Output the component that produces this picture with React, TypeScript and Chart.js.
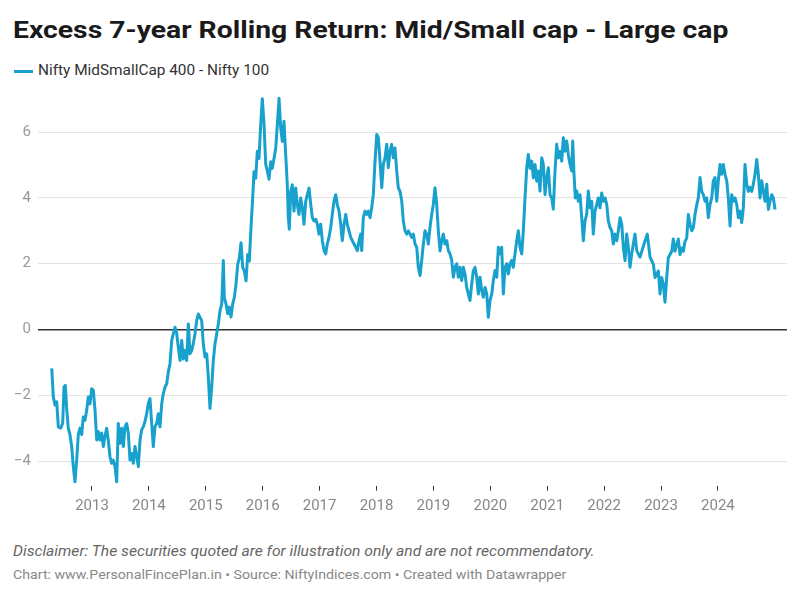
import React, { useEffect, useRef } from "react";
import { Chart, registerables } from "chart.js";

Chart.register(...registerables);

const TITLE = "Excess 7-year Rolling Return: Mid/Small cap - Large cap";
const SERIES_NAME = "Nifty MidSmallCap 400 - Nifty 100";
const DISCLAIMER = "Disclaimer: The securities quoted are for illustration only and are not recommendatory.";
const CREDIT = "Chart: www.PersonalFincePlan.in • Source: NiftyIndices.com • Created with Datawrapper";

const X_TICKS = [2013, 2014, 2015, 2016, 2017, 2018, 2019, 2020, 2021, 2022, 2023, 2024];
const Y_TICKS = [-4, -2, 0, 2, 4, 6];

const DATES = [
  2012.292, 2012.320, 2012.350, 2012.380, 2012.408, 2012.450, 2012.485, 2012.508, 2012.531, 2012.555,
  2012.583, 2012.613, 2012.643, 2012.671, 2012.701, 2012.731, 2012.759, 2012.789, 2012.819, 2012.847,
  2012.877, 2012.907, 2012.935, 2012.965, 2012.995, 2013.023, 2013.053, 2013.083, 2013.111, 2013.141,
  2013.170, 2013.199, 2013.228, 2013.258, 2013.286, 2013.316, 2013.346, 2013.374, 2013.404, 2013.434,
  2013.462, 2013.492, 2013.522, 2013.550, 2013.580, 2013.610, 2013.638, 2013.668, 2013.698, 2013.726,
  2013.756, 2013.786, 2013.814, 2013.844, 2013.873, 2013.902, 2013.931, 2013.961, 2013.989, 2014.019,
  2014.049, 2014.077, 2014.107, 2014.137, 2014.165, 2014.195, 2014.225, 2014.253, 2014.283, 2014.313,
  2014.341, 2014.371, 2014.401, 2014.429, 2014.459, 2014.489, 2014.517, 2014.547, 2014.577, 2014.605,
  2014.635, 2014.664, 2014.693, 2014.722, 2014.752, 2014.780, 2014.810, 2014.840, 2014.868, 2014.898,
  2014.928, 2014.956, 2014.986, 2015.016, 2015.044, 2015.074, 2015.104, 2015.132, 2015.162, 2015.192,
  2015.220, 2015.250, 2015.280, 2015.308, 2015.325, 2015.355, 2015.385, 2015.413, 2015.443, 2015.473,
  2015.501, 2015.531, 2015.561, 2015.589, 2015.619, 2015.649, 2015.677, 2015.707, 2015.736, 2015.765,
  2015.794, 2015.824, 2015.847, 2015.877, 2015.905, 2015.935, 2015.965, 2015.993, 2016.023, 2016.053,
  2016.081, 2016.111, 2016.141, 2016.169, 2016.199, 2016.229, 2016.257, 2016.287, 2016.316, 2016.345,
  2016.374, 2016.404, 2016.432, 2016.450, 2016.468, 2016.492, 2016.520, 2016.550, 2016.580, 2016.608,
  2016.638, 2016.668, 2016.696, 2016.726, 2016.756, 2016.784, 2016.814, 2016.844, 2016.872, 2016.902,
  2016.932, 2016.960, 2016.990, 2017.019, 2017.048, 2017.077, 2017.107, 2017.135, 2017.165, 2017.195,
  2017.223, 2017.253, 2017.283, 2017.311, 2017.341, 2017.371, 2017.399, 2017.429, 2017.459, 2017.487,
  2017.517, 2017.547, 2017.575, 2017.605, 2017.635, 2017.663, 2017.693, 2017.722, 2017.740, 2017.768,
  2017.798, 2017.828, 2017.856, 2017.886, 2017.916, 2017.944, 2017.974, 2018.004, 2018.032, 2018.062,
  2018.092, 2018.120, 2018.150, 2018.179, 2018.207, 2018.237, 2018.267, 2018.295, 2018.325, 2018.355,
  2018.383, 2018.413, 2018.443, 2018.471, 2018.501, 2018.531, 2018.559, 2018.589, 2018.619, 2018.647,
  2018.677, 2018.707, 2018.735, 2018.765, 2018.794, 2018.823, 2018.852, 2018.882, 2018.910, 2018.940,
  2018.970, 2018.998, 2019.028, 2019.058, 2019.086, 2019.116, 2019.146, 2019.174, 2019.204, 2019.234,
  2019.262, 2019.292, 2019.322, 2019.350, 2019.380, 2019.410, 2019.438, 2019.468, 2019.497, 2019.526,
  2019.555, 2019.585, 2019.613, 2019.643, 2019.673, 2019.701, 2019.731, 2019.761, 2019.789, 2019.819,
  2019.849, 2019.877, 2019.907, 2019.937, 2019.965, 2019.995, 2020.025, 2020.053, 2020.083, 2020.113,
  2020.141, 2020.171, 2020.200, 2020.229, 2020.258, 2020.288, 2020.316, 2020.346, 2020.376, 2020.404,
  2020.434, 2020.464, 2020.492, 2020.522, 2020.552, 2020.580, 2020.610, 2020.640, 2020.668, 2020.698,
  2020.728, 2020.756, 2020.786, 2020.816, 2020.844, 2020.874, 2020.904, 2020.932, 2020.962, 2020.991,
  2021.020, 2021.049, 2021.079, 2021.107, 2021.137, 2021.167, 2021.195, 2021.225, 2021.255, 2021.283,
  2021.313, 2021.343, 2021.371, 2021.401, 2021.431, 2021.448, 2021.471, 2021.494, 2021.519, 2021.547,
  2021.577, 2021.606, 2021.635, 2021.664, 2021.694, 2021.722, 2021.752, 2021.782, 2021.810, 2021.840,
  2021.870, 2021.898, 2021.928, 2021.958, 2021.986, 2022.016, 2022.046, 2022.074, 2022.104, 2022.134,
  2022.162, 2022.192, 2022.222, 2022.250, 2022.280, 2022.310, 2022.338, 2022.368, 2022.397, 2022.426,
  2022.455, 2022.485, 2022.513, 2022.543, 2022.573, 2022.601, 2022.631, 2022.719, 2022.759, 2022.807,
  2022.865, 2022.895, 2022.953, 2022.983, 2023.012, 2023.041, 2023.070, 2023.100, 2023.128, 2023.188,
  2023.216, 2023.246, 2023.276, 2023.304, 2023.334, 2023.364, 2023.392, 2023.422, 2023.452, 2023.480,
  2023.510, 2023.540, 2023.568, 2023.598, 2023.628, 2023.656, 2023.686, 2023.715, 2023.744, 2023.773,
  2023.803, 2023.831, 2023.861, 2023.891, 2023.919, 2023.949, 2023.979, 2024.007, 2024.037, 2024.067,
  2024.095, 2024.125, 2024.155, 2024.183, 2024.213, 2024.243, 2024.271, 2024.301, 2024.331, 2024.359,
  2024.389, 2024.418, 2024.447, 2024.476, 2024.506, 2024.535, 2024.564, 2024.594, 2024.622, 2024.652,
  2024.682, 2024.710, 2024.740, 2024.770, 2024.798, 2024.828, 2024.858, 2024.886, 2024.916, 2024.946,
  2024.974, 2025.004,
];

const EXCESS_RETURN = [
  -1.18, -2.05, -2.30, -2.20, -2.96, -3.00, -2.85, -1.75, -1.70, -2.40,
  -3.00, -3.20, -3.56, -4.17, -4.63, -3.97, -3.20, -3.00, -3.20, -2.66,
  -2.76, -2.45, -2.05, -2.26, -1.80, -1.85, -2.45, -3.36, -3.10, -3.36,
  -3.15, -3.56, -3.25, -3.00, -3.36, -3.87, -4.07, -3.97, -4.17, -4.63,
  -2.86, -3.46, -3.00, -3.56, -2.96, -2.86, -3.15, -3.97, -3.77, -4.07,
  -3.56, -3.87, -4.17, -3.36, -3.05, -2.96, -2.80, -2.56, -2.26, -2.10,
  -2.86, -3.56, -2.96, -2.86, -2.56, -2.96, -2.26, -1.95, -1.75, -1.65,
  -1.29, -1.04, -0.33, -0.13, 0.07, -0.13, -0.54, -0.94, -0.33, -0.90,
  -0.64, -0.94, 0.17, -0.74, -0.64, -0.43, -0.13, 0.27, 0.47, 0.37,
  0.27, -0.43, -0.84, -0.74, -1.45, -2.40, -1.75, -0.94, -0.43, -0.13,
  0.17, 0.57, 0.77, 2.10, 0.97, 0.78, 0.48, 0.68, 0.38, 0.78,
  0.97, 1.38, 1.98, 2.18, 2.64, 1.88, 1.78, 1.48, 2.28, 2.08,
  3.10, 4.00, 4.80, 4.60, 5.42, 5.20, 6.23, 7.02, 6.25, 5.02,
  4.82, 4.57, 5.10, 4.90, 5.20, 5.52, 6.23, 7.03, 6.13, 5.72,
  6.33, 5.32, 4.41, 3.40, 3.05, 4.20, 4.40, 3.60, 4.30, 3.80,
  3.50, 4.00, 3.70, 3.20, 3.90, 4.10, 4.30, 3.80, 3.40, 3.30,
  3.35, 3.20, 2.90, 3.20, 2.70, 2.40, 2.30, 2.60, 2.80, 3.10,
  3.50, 3.90, 4.10, 3.80, 3.60, 3.20, 2.70, 3.20, 3.50, 3.20,
  3.00, 2.80, 2.70, 2.60, 2.50, 2.40, 2.70, 2.90, 2.40, 3.40,
  3.60, 3.50, 3.60, 3.40, 3.70, 4.10, 5.12, 5.93, 5.83, 5.12,
  4.31, 5.02, 5.22, 5.63, 4.92, 5.42, 5.63, 5.22, 5.52, 4.82,
  4.31, 4.20, 3.91, 3.30, 3.00, 2.90, 3.00, 2.90, 2.80, 2.90,
  2.60, 2.50, 1.89, 1.64, 2.09, 2.60, 3.00, 2.90, 2.60, 3.10,
  3.50, 3.80, 4.31, 3.80, 3.00, 2.39, 2.70, 2.90, 2.60, 2.70,
  2.40, 2.30, 2.10, 1.59, 1.89, 2.00, 1.59, 1.89, 1.49, 1.89,
  1.69, 1.28, 1.08, 0.88, 1.38, 1.79, 1.89, 1.59, 1.08, 1.59,
  1.18, 0.98, 1.28, 1.08, 0.37, 0.88, 1.08, 1.49, 1.79, 1.59,
  2.50, 2.30, 2.50, 1.08, 1.89, 2.00, 1.69, 2.00, 2.10, 1.89,
  2.30, 2.70, 3.00, 2.50, 2.30, 3.00, 4.00, 4.92, 5.32, 4.90,
  5.12, 4.61, 5.02, 4.51, 4.82, 4.21, 5.22, 5.02, 4.10, 4.61,
  4.92, 4.10, 4.00, 3.66, 4.82, 5.63, 5.22, 5.42, 5.12, 5.83,
  5.42, 5.73, 5.32, 5.02, 4.82, 5.73, 4.72, 4.00, 4.21, 3.90,
  4.10, 3.40, 2.70, 3.30, 3.50, 4.21, 3.70, 3.90, 2.90, 3.60,
  3.80, 4.00, 3.70, 4.15, 3.90, 4.00, 3.80, 3.30, 3.10, 3.00,
  2.60, 2.90, 2.70, 3.00, 3.40, 3.20, 2.50, 2.09, 2.90, 2.50,
  1.89, 2.30, 2.60, 2.90, 2.40, 2.30, 2.20, 2.70, 2.90, 2.20,
  1.98, 1.58, 1.78, 1.08, 1.58, 1.38, 0.83, 1.58, 2.18, 2.38,
  2.75, 2.38, 2.58, 2.75, 2.28, 2.48, 2.38, 2.68, 2.78, 3.50,
  3.20, 3.00, 3.10, 3.50, 3.80, 4.00, 4.62, 4.20, 4.10, 3.90,
  4.00, 3.40, 3.80, 4.00, 4.52, 4.62, 3.90, 4.52, 5.02, 4.72,
  5.02, 4.72, 4.52, 4.00, 3.15, 4.10, 3.90, 4.00, 3.80, 3.40,
  3.60, 3.25, 3.70, 5.02, 4.42, 4.20, 4.32, 4.20, 4.42, 4.72,
  5.17, 4.72, 4.00, 4.52, 4.20, 3.90, 4.42, 3.65, 3.90, 4.10,
  4.00, 3.65,
];

const LINE_COLOR = "#18a1cd";
const FONT = "Roboto, 'Noto Sans', Arial, sans-serif";

function StretchedText(props: {
  text: string;
  left: number;
  top: number;
  size: number;
  scaleX: number;
  color: string;
  weight?: number;
  italic?: boolean;
  lineHeight: number;
}) {
  return (
    <div
      style={{
        position: "absolute",
        left: props.left,
        top: props.top,
        fontSize: props.size,
        fontWeight: props.weight || 400,
        fontStyle: props.italic ? "italic" : "normal",
        color: props.color,
        whiteSpace: "nowrap",
        lineHeight: props.lineHeight + "px",
        transform: `scaleX(${props.scaleX})`,
        transformOrigin: "0 0",
      }}
    >
      {props.text}
    </div>
  );
}

export default function App() {
  const canvasRef = useRef<HTMLCanvasElement | null>(null);

  useEffect(() => {
    const canvas = canvasRef.current;
    if (!canvas) return;
    const points = DATES.map((d, i) => ({ x: d, y: EXCESS_RETURN[i] }));
    const chart = new Chart(canvas, {
      type: "line",
      data: {
        datasets: [
          {
            label: SERIES_NAME,
            data: points,
            borderColor: LINE_COLOR,
            backgroundColor: LINE_COLOR,
            borderWidth: 3,
            pointRadius: 0,
            tension: 0,
            borderJoinStyle: "round",
          },
        ],
      },
      options: {
        animation: false,
        responsive: false,
        maintainAspectRatio: false,
        devicePixelRatio: 1,
        layout: { padding: { top: 0, right: 13, left: 0, bottom: 0 } },
        plugins: {
          legend: { display: false },
          tooltip: { enabled: false },
          title: { display: false },
        },
        scales: {
          x: {
            type: "linear",
            min: 2012.051,
            max: 2025.214,
            afterBuildTicks: (scale: any) => {
              scale.ticks = X_TICKS.map((v) => ({ value: v }));
            },
            afterFit: (scale: any) => {
              scale.height = 39.3;
            },
            border: { display: false },
            grid: {
              drawOnChartArea: false,
              drawTicks: true,
              tickLength: 5,
              tickColor: "#333333",
              tickWidth: 1,
            },
            ticks: {
              color: "#888888",
              padding: 7,
              maxRotation: 0,
              autoSkip: false,
              font: { family: FONT, size: 15 },
              callback: (v: any) => String(v),
            },
          },
          y: {
            type: "linear",
            min: -4.75,
            max: 7.1,
            afterBuildTicks: (scale: any) => {
              scale.ticks = Y_TICKS.map((v) => ({ value: v }));
            },
            afterFit: (scale: any) => {
              scale.width = 38;
            },
            border: { display: false },
            grid: {
              drawTicks: false,
              color: (ctx: any) => (ctx.tick && ctx.tick.value === 0 ? "#333333" : "#e3e3e3"),
              lineWidth: (ctx: any) => (ctx.tick && ctx.tick.value === 0 ? 1.5 : 1),
            },
            ticks: {
              color: "#999999",
              padding: 7,
              font: { family: FONT, size: 15 },
              callback: (v: any) => (v < 0 ? "\u2212" + Math.abs(v) : String(v)),
            },
          },
        },
      },
    });
    return () => chart.destroy();
  }, []);

  return (
    <div
      style={{
        position: "fixed",
        left: 0,
        top: 0,
        width: 800,
        height: 596,
        background: "#ffffff",
        fontFamily: FONT,
        overflow: "hidden",
      }}
    >
      <StretchedText text={TITLE} left={13} top={14} size={24} scaleX={1.18} color="#1a1a1a" weight={700} lineHeight={32} />
      <div
        style={{
          position: "absolute",
          left: 14,
          top: 70,
          width: 19,
          height: 3,
          background: LINE_COLOR,
        }}
      />
      <StretchedText text={SERIES_NAME} left={38} top={61} size={14.5} scaleX={1.06} color="#333333" lineHeight={20} />
      <canvas
        ref={canvasRef}
        width={800}
        height={445}
        style={{ position: "absolute", left: 0, top: 80, width: 800, height: 445 }}
      />
      <StretchedText text={DISCLAIMER} left={13} top={541} size={14} scaleX={1.117} color="#666666" italic lineHeight={20} />
      <StretchedText text={CREDIT} left={13} top={566} size={13} scaleX={1.09} color="#888888" lineHeight={18} />
    </div>
  );
}
